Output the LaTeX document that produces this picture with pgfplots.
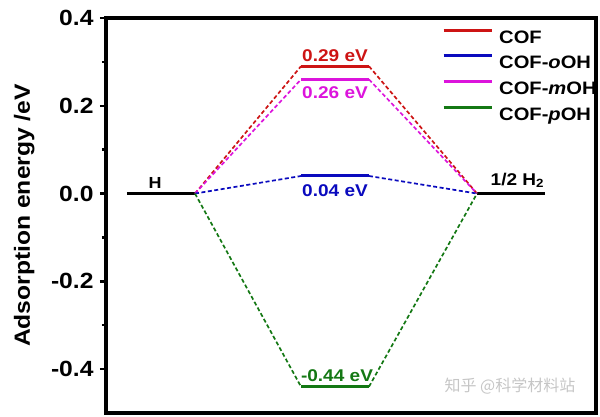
\documentclass[border=0pt]{standalone}
\usepackage{pgfplots}
\pgfplotsset{compat=1.18}
\usepackage{fontspec}
\setmainfont{Liberation Sans}[FakeStretch=1.12]
\newfontfamily\cjk{Noto Sans CJK SC}
\definecolor{cred}{RGB}{205,20,20}
\definecolor{cblue}{RGB}{10,10,190}
\definecolor{cmag}{RGB}{220,20,220}
\definecolor{cgreen}{RGB}{20,120,20}
\begin{document}
\begin{tikzpicture}
\path[use as bounding box] (0,0) rectangle (600pt,417pt);
\begin{axis}[
  at={(106pt,4pt)}, anchor=south west,
  scale only axis, width=490pt, height=395pt,
  xmin=106, xmax=596, ymin=-0.5, ymax=0.4,
  xtick=\empty,
  ytick={-0.4,-0.2,0,0.2,0.4},
  yticklabels={-0.4,-0.2,0.0,0.2,0.4},
  minor ytick={-0.3,-0.1,0.1,0.3},
  ytick pos=left, tick align=outside,
  major tick length=6pt, minor tick length=4pt,
  every tick/.style={line width=2.5pt, black},
  axis line style={line width=3.5pt},
  yticklabel style={font=\bfseries\fontsize{22}{22}\selectfont, xshift=-3pt},
  ylabel={Adsorption energy /eV},
  every axis y label/.style={at={(axis description cs:-0.167,0.5)}, rotate=90, anchor=center,
    font=\bfseries\fontsize{22}{22}\selectfont},
  clip=false,
  legend style={at={(axis cs:442,0.376)}, anchor=north west, draw=none, fill=none,
    inner sep=0pt, row sep=11.2pt, column sep=6pt,
    font=\bfseries\fontsize{18}{18}\selectfont,
    nodes={inner sep=0pt, text height=13pt, text depth=0pt}},
  legend cell align=left,
  legend image post style={line width=3pt, solid},
  legend image code/.code={\path[draw, #1, line width=3pt, solid] (0pt,6.5pt) -- (48pt,6.5pt);},
]
% reference levels
\addplot[black, line width=3pt, forget plot] coordinates {(127,0) (195,0)};
\addplot[black, line width=3pt, forget plot] coordinates {(477,0) (545,0)};
% levels
\addplot[cred, line width=3pt] coordinates {(301,0.29) (369,0.29)};
\addlegendentry{COF}
\addplot[cblue, line width=3pt] coordinates {(301,0.04) (369,0.04)};
\addlegendentry{COF-\textit{o}OH}
\addplot[cmag, line width=3pt] coordinates {(301,0.26) (369,0.26)};
\addlegendentry{COF-\textit{m}OH}
\addplot[cgreen, line width=3pt] coordinates {(301,-0.44) (369,-0.44)};
\addlegendentry{COF-\textit{p}OH}
% dashed connectors
\addplot[cred, line width=1.7pt, dash pattern=on 4pt off 2.5pt, forget plot] coordinates {(195,0) (301,0.29)};
\addplot[cred, line width=1.7pt, dash pattern=on 4pt off 2.5pt, forget plot] coordinates {(369,0.29) (477,0)};
\addplot[cmag, line width=1.7pt, dash pattern=on 4pt off 2.5pt, forget plot] coordinates {(195,0) (301,0.26)};
\addplot[cmag, line width=1.7pt, dash pattern=on 4pt off 2.5pt, forget plot] coordinates {(369,0.26) (477,0)};
\addplot[cblue, line width=1.7pt, dash pattern=on 4pt off 2.5pt, forget plot] coordinates {(195,0) (301,0.04)};
\addplot[cblue, line width=1.7pt, dash pattern=on 4pt off 2.5pt, forget plot] coordinates {(369,0.04) (477,0)};
\addplot[cgreen, line width=1.7pt, dash pattern=on 4pt off 2.5pt, forget plot] coordinates {(195,0) (301,-0.44)};
\addplot[cgreen, line width=1.7pt, dash pattern=on 4pt off 2.5pt, forget plot] coordinates {(369,-0.44) (477,0)};
% labels
\node[font=\bfseries\fontsize{17}{17}\selectfont, text=cred] at (axis cs:335,0.315) {0.29 eV};
\node[font=\bfseries\fontsize{17}{17}\selectfont, text=cmag] at (axis cs:335,0.230) {0.26 eV};
\node[font=\bfseries\fontsize{17}{17}\selectfont, text=cblue] at (axis cs:335,0.007) {0.04 eV};
\node[font=\bfseries\fontsize{17}{17}\selectfont, text=cgreen] at (axis cs:337,-0.414) {-0.44 eV};
\node[font=\bfseries\fontsize{16}{16}\selectfont] at (axis cs:155,0.025) {H};
\node[font=\bfseries\fontsize{17}{17}\selectfont] at (axis cs:517,0.030) {1/2 H$_{\mathbf{2}}$};
\node[font=\cjk\fontsize{16}{16}\selectfont, text=gray!45] at (axis cs:510,-0.438) {知乎 @科学材料站};
\end{axis}
\end{tikzpicture}
\end{document}
